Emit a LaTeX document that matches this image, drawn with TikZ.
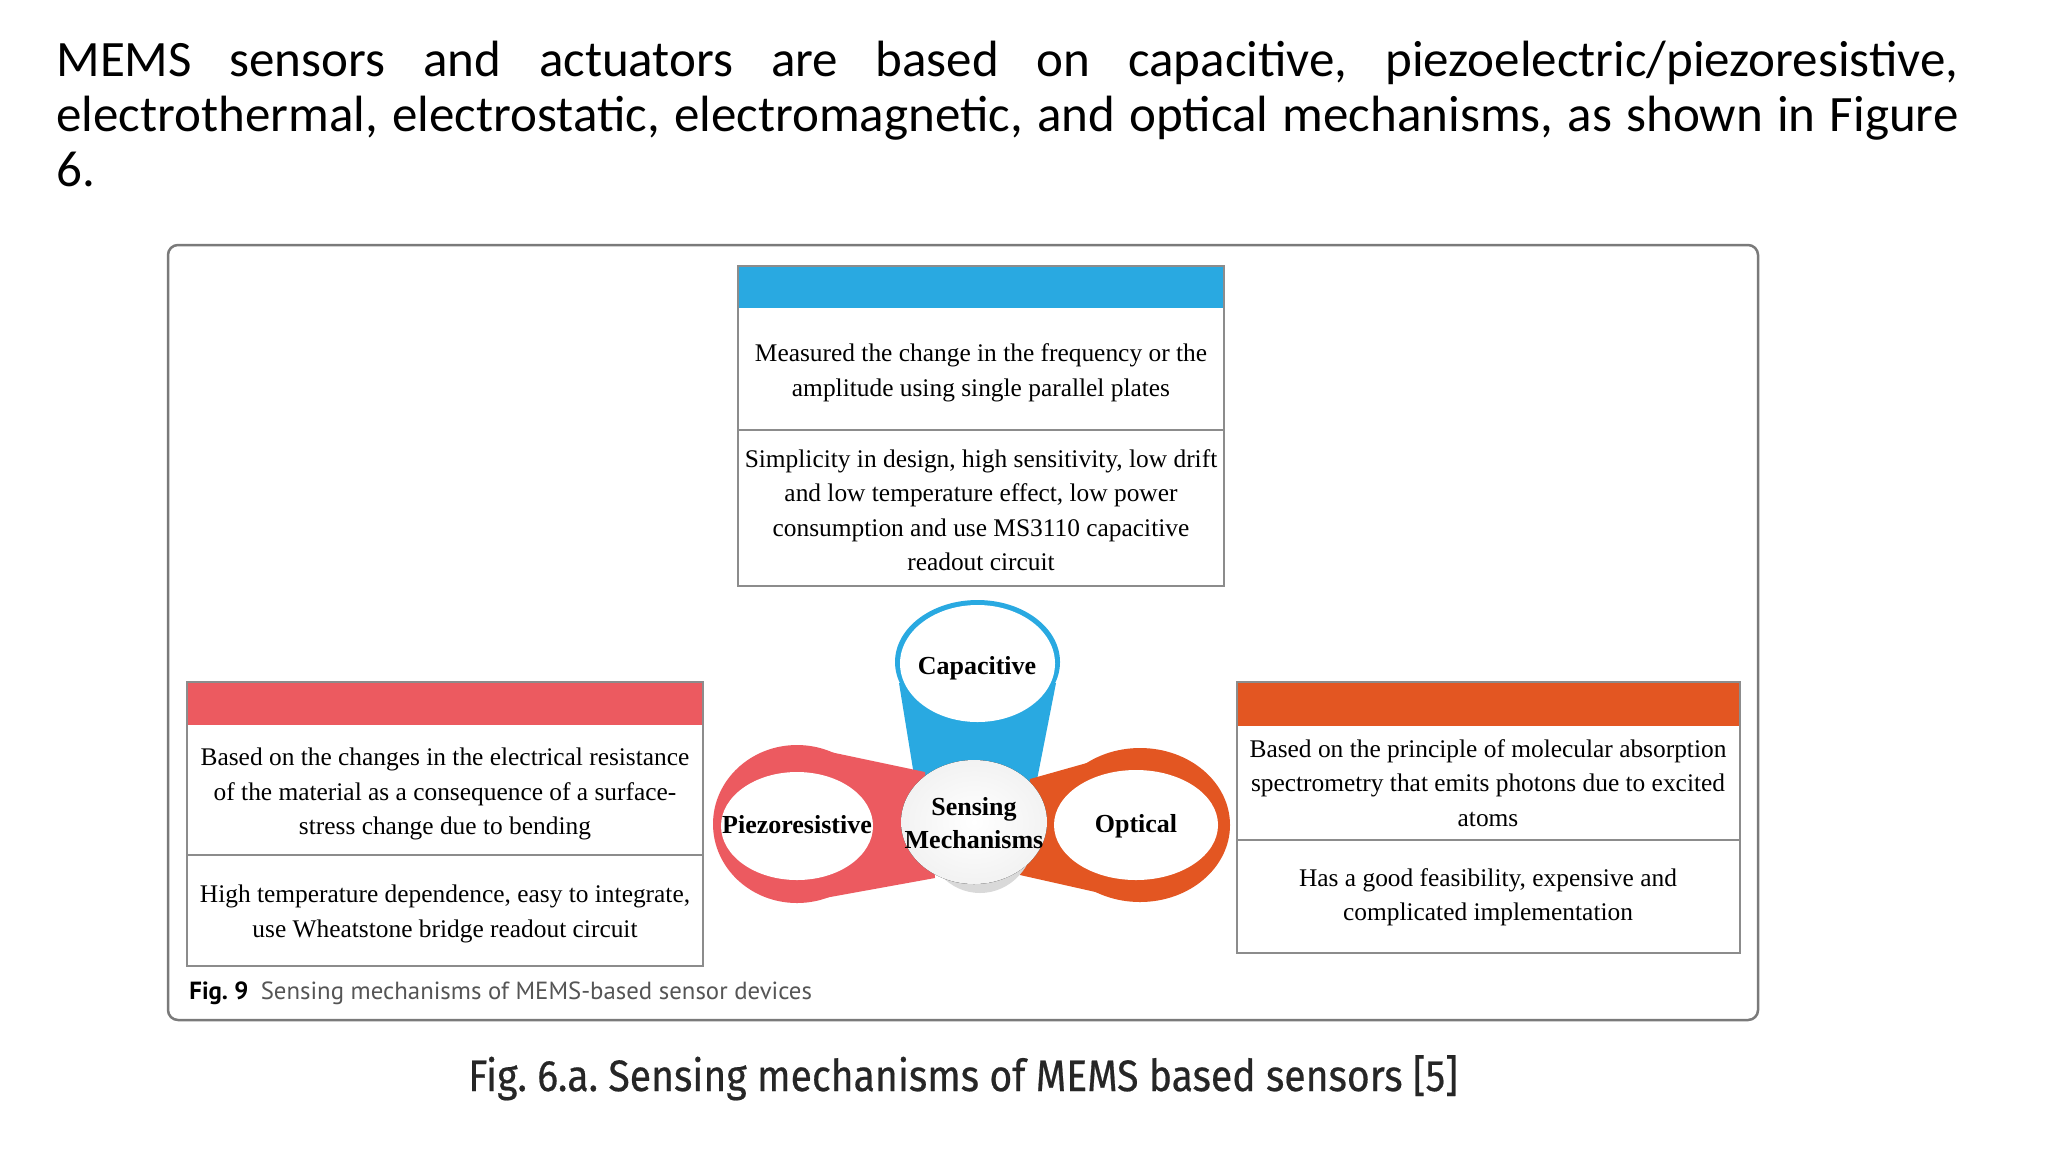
\documentclass[tikz,border=0pt]{standalone}
\usepackage{fontspec}
\usepackage{graphicx}
\setmainfont{Liberation Serif}
\newfontfamily\parafont{Carlito}
\newfontfamily\smallcapfont{PT Sans}
\newfontfamily\bigcapfont[FakeBold=0.5]{Fira Sans}
\definecolor{capblue}{HTML}{29A9E1}
\definecolor{piezored}{HTML}{EC5A60}
\definecolor{optorange}{HTML}{E35622}
\definecolor{boxline}{HTML}{8C8C8C}
\definecolor{framegray}{HTML}{7A7A7A}
\definecolor{captext}{HTML}{555555}
\frenchspacing
\begin{document}
\begin{tikzpicture}[x=0.5pt,y=-0.5pt,
  paraline/.style={anchor=base west, inner sep=0pt, font=\parafont\fontsize{25.5pt}{27.5pt}\selectfont},
  celltext/.style={align=center, inner sep=0pt, font=\fontsize{12.7pt}{17.25pt}\selectfont},
  bubble/.style={align=center, inner sep=0pt, font=\bfseries\fontsize{13pt}{16.5pt}\selectfont},
  boxframe/.style={draw=boxline, line width=1pt}]
\useasboundingbox (0,0) rectangle (2048,1152);
\fill[white] (0,0) rectangle (2048,1152);

% paragraph
\node[paraline] (p1) at (56,76) {\makebox[951pt][s]{MEMS sensors and actuators are based on capacitive, piezoelectric/piezoresistive,}};
\node[paraline] (p2) at (56,131) {\makebox[951pt][s]{electrothermal, electrostatic, electromagnetic, and optical mechanisms, as shown in Figure}};
\node[paraline] (p3) at (56,186) {6.};

% frame
\draw[framegray, line width=1.25pt, rounded corners=5pt] (168,245) rectangle (1758,1020);

% top box (capacitive)
\fill[capblue] (738,266) rectangle (1224,308);
\draw[boxframe] (738,266) rectangle (1224,586);
\draw[boxframe] (738,430) -- (1224,430);
\node[celltext] (capA) at (981,373) {Measured the change in the frequency or the\\amplitude using single parallel plates};
\node[celltext] (capB) at (981,510) {Simplicity in design, high sensitivity, low drift\\and low temperature effect, low power\\consumption and use MS3110 capacitive\\readout circuit};

% left box (piezoresistive)
\fill[piezored] (187,682) rectangle (703,725);
\draw[boxframe] (187,682) rectangle (703,966);
\draw[boxframe] (187,855) -- (703,855);
\node[celltext] (piezoA) at (445,794) {Based on the changes in the electrical resistance\\of the material as a consequence of a surface-\\stress change due to bending};
\node[celltext] (piezoB) at (445,914) {High temperature dependence, easy to integrate,\\use Wheatstone bridge readout circuit};

% right box (optical)
\fill[optorange] (1237,682) rectangle (1740,726);
\draw[boxframe] (1237,682) rectangle (1740,953);
\draw[boxframe] (1237,840) -- (1740,840);
\node[celltext] (optA) at (1488,783) {Based on the principle of molecular absorption\\spectrometry that emits photons due to excited\\atoms};
\node[celltext] (optB) at (1488,897) {Has a good feasibility, expensive and\\complicated implementation};

% balloons
\fill[capblue] (899,683) -- (918,800) -- (1033,800) -- (1056,683) -- cycle;
\fill[capblue] (977.5,662) ellipse [x radius=41.25pt, y radius=31pt];
\fill[white] (977.5,663.5) ellipse [x radius=38.75pt, y radius=29.25pt];

\fill[piezored] (797,824) ellipse [x radius=42pt, y radius=39.5pt];
\fill[piezored] (797,745) -- (925,772) -- (935,878) -- (797,903) -- cycle;
\fill[white] (797,826) ellipse [x radius=38pt, y radius=27pt];

\fill[optorange] (1140,825) ellipse [x radius=45pt, y radius=38.5pt];
\fill[optorange] (1140,748) -- (1030,779) -- (1020,875) -- (1140,902) -- cycle;
\fill[white] (1136,825) ellipse [x radius=41pt, y radius=27.5pt];

\fill[gray!30] (980,834) ellipse [x radius=27.5pt, y radius=29.5pt];
\fill[inner color=white, outer color=gray!10] (974,822) ellipse [x radius=36.5pt, y radius=31pt];

\node[bubble] (cap) at (977,668) {Capacitive};
\node[bubble] (piezo) at (797,825) {Piezoresistive};
\node[bubble] (opt) at (1136,826) {Optical};
\node[bubble] (sense) at (974,823) {Sensing\\Mechanisms};

% captions
\node[anchor=base west, inner sep=0pt, font=\smallcapfont\fontsize{12.4pt}{15pt}\selectfont] (fig9) at (189,999) {\textbf{Fig. 9}\enspace\textcolor{captext}{Sensing mechanisms of MEMS-based sensor devices}};
\node[anchor=base, inner sep=0pt] (figcap) at (963,1091) {\scalebox{0.89}[1]{\bigcapfont\fontsize{22pt}{26pt}\selectfont\color{black!85}Fig. 6.a. Sensing mechanisms of MEMS based sensors [5]}};
\end{tikzpicture}
\end{document}
